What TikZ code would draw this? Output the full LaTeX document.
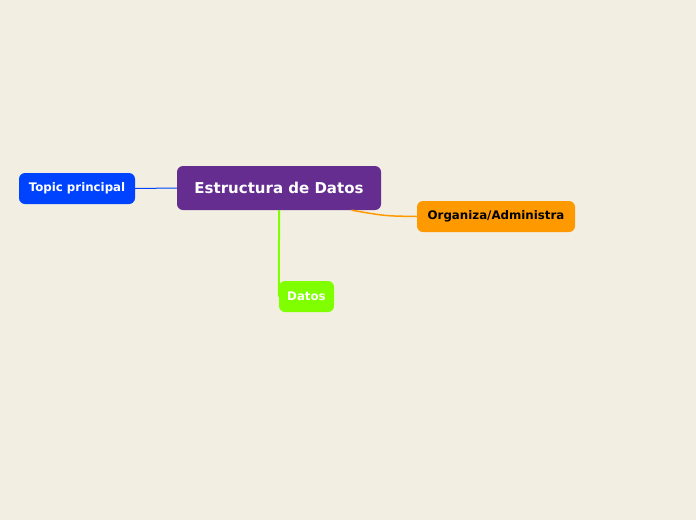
\documentclass[tikz,border=0pt]{standalone}
\usepackage{fontspec}
\setmainfont{DejaVu Sans}
\definecolor{paper}{HTML}{F2EFE2}
\definecolor{mainpurple}{HTML}{662D91}
\definecolor{topicblue}{HTML}{0043FF}
\definecolor{orgorange}{HTML}{FF9900}
\definecolor{datgreen}{HTML}{80FF00}
\begin{document}
\begin{tikzpicture}[x=1pt, y=-1pt]
      \tikzset{every node/.style={rectangle, rounded corners=6pt, inner sep=0pt, font=\bfseries},
        topic/.style={minimum height=31pt, font=\bfseries\fontsize{11.8}{14}\selectfont}}
      \fill[paper] (0,0) rectangle (696,520);
      \useasboundingbox (0,0) rectangle (696,520);

      \node[fill=mainpurple, text=white, minimum width=204pt, minimum height=44pt,
        font=\bfseries\fontsize{15}{18}\selectfont] (main) at (279,188) {Estructura de Datos};
      \node[topic, fill=topicblue, text=white, minimum width=116pt] (principal) at (77,188.5) {Topic principal};
      \node[topic, fill=orgorange, text=black, minimum width=158pt] (organiza) at (496,216.5) {Organiza/Administra};
      \node[topic, fill=datgreen, text=white, minimum width=55pt] (datos) at (306.5,296.5) {Datos};

      \draw[topicblue, line width=1pt] (principal.east) -- (main.west);
      \draw[orgorange, line width=1.5pt] (main.-17) .. controls (385,216) .. (organiza.west);
      \draw[datgreen, line width=2pt] (main.south) .. controls (279,260) .. (datos.west);
    \end{tikzpicture}
\end{document}
